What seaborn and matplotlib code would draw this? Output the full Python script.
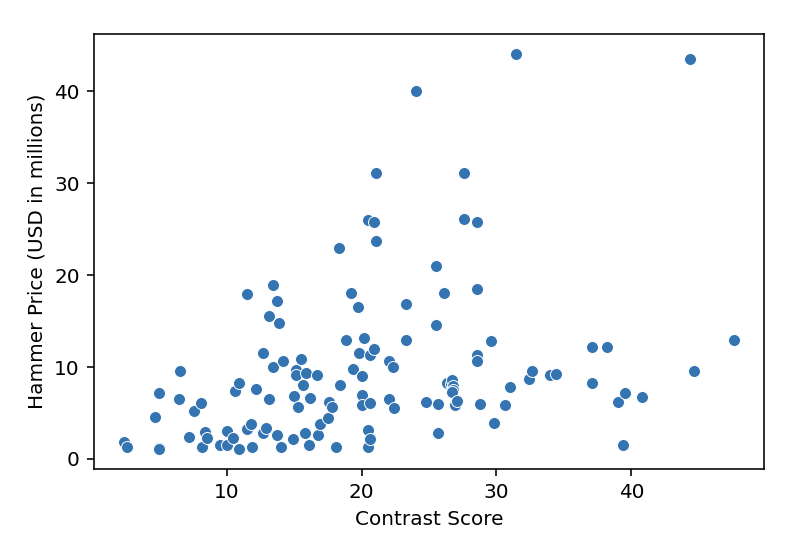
import numpy as np
import pandas as pd

import seaborn as sns
import matplotlib.pyplot as plt

contrast = [2.4, 2.6, 4.7, 5.0, 5.0, 5.0, 6.5, 6.45, 7.2, 7.6, 8.1, 8.2, 8.4, 8.55,
            9.5, 10.0, 10.0, 10.5, 10.6, 10.9, 10.9, 11.5, 11.5, 11.8, 11.9, 12.2,
            12.7, 12.7, 12.9, 13.1, 13.1, 13.4, 13.4, 13.7, 13.7, 13.85, 14.0, 14.2,
            14.9, 15.0, 15.15, 15.15, 15.3, 15.5, 15.65, 15.8, 15.9, 16.1, 16.2, 16.7,
            16.8, 16.95, 17.5, 17.55, 17.8, 18.1, 18.3, 18.4, 18.85, 19.2, 19.35, 19.7,
            19.8, 20.0, 20.0, 20.0, 20.2, 20.45, 20.45, 20.45, 20.6, 20.6, 20.6, 20.95,
            21.05, 21.05, 20.9, 22.0, 22.0, 22.3, 22.4, 23.3, 23.3, 24.05, 24.8, 25.5,
            25.5, 25.65, 25.7, 26.1, 26.3, 26.6, 26.7, 26.75, 26.8, 26.7, 26.9, 27.1,
            27.6, 27.6, 28.55, 28.55, 28.55, 28.55, 28.8, 29.6, 29.85, 30.6, 31.0, 31.45,
            32.4, 32.6, 34.0, 34.4, 37.1, 37.1, 38.2, 39.0, 39.35, 39.5, 40.8, 44.35,
            44.65, 47.6]
price = [1.8, 1.25, 4.55, 7.15, 1.2, 1.05, 9.6, 6.55, 2.4, 5.2, 6.1, 1.3, 2.9, 2.25,
         1.5, 3.0, 1.5, 2.3, 7.4, 8.3, 1.05, 18.0, 3.3, 3.8, 1.3, 7.6,
         11.5, 2.8, 3.4, 15.6, 6.55, 18.9, 10.0, 17.2, 2.65, 14.8, 1.3, 10.65,
         2.2, 6.9, 9.7, 9.1, 5.65, 10.9, 8.0, 2.85, 9.4, 1.5, 6.6, 9.1,
         2.65, 3.8, 4.5, 6.15, 5.65, 1.3, 23.0, 8.0, 13.0, 18.05, 9.8, 16.55,
         11.5, 9.0, 7.0, 5.9, 13.2, 26.05, 3.2, 1.3, 11.3, 6.1, 2.2, 25.8,
         31.1, 23.7, 12.0, 10.65, 6.55, 10.0, 5.6, 13.0, 16.9, 40.0, 6.25, 21.0,
         14.55, 6.0, 2.8, 18.05, 8.3, 8.15, 8.55, 7.9, 7.5, 7.3, 5.9, 6.3,
         31.1, 26.1, 25.8, 18.5, 11.3, 10.65, 6.0, 12.85, 3.9, 5.9, 7.85, 44.1,
         8.7, 9.6, 9.1, 9.3, 12.2, 8.3, 12.2, 6.25, 1.5, 7.2, 6.75, 43.5,
         9.6, 13.0]

dane = pd.DataFrame({"Contrast Score": contrast, "Hammer Price (USD in millions)": price})

fig, ax = plt.subplots(figsize=(808 / 144, 548 / 144), dpi=144)
fig.subplots_adjust(left=0.116, right=0.946, top=0.938, bottom=0.144)

sns.scatterplot(data=dane, x="Contrast Score", y="Hammer Price (USD in millions)",
                color="#3474b0", ax=ax)
ax.set_xticks([10, 20, 30, 40])
ax.set_yticks([0, 10, 20, 30, 40])

plt.savefig("out.png", dpi=144)
